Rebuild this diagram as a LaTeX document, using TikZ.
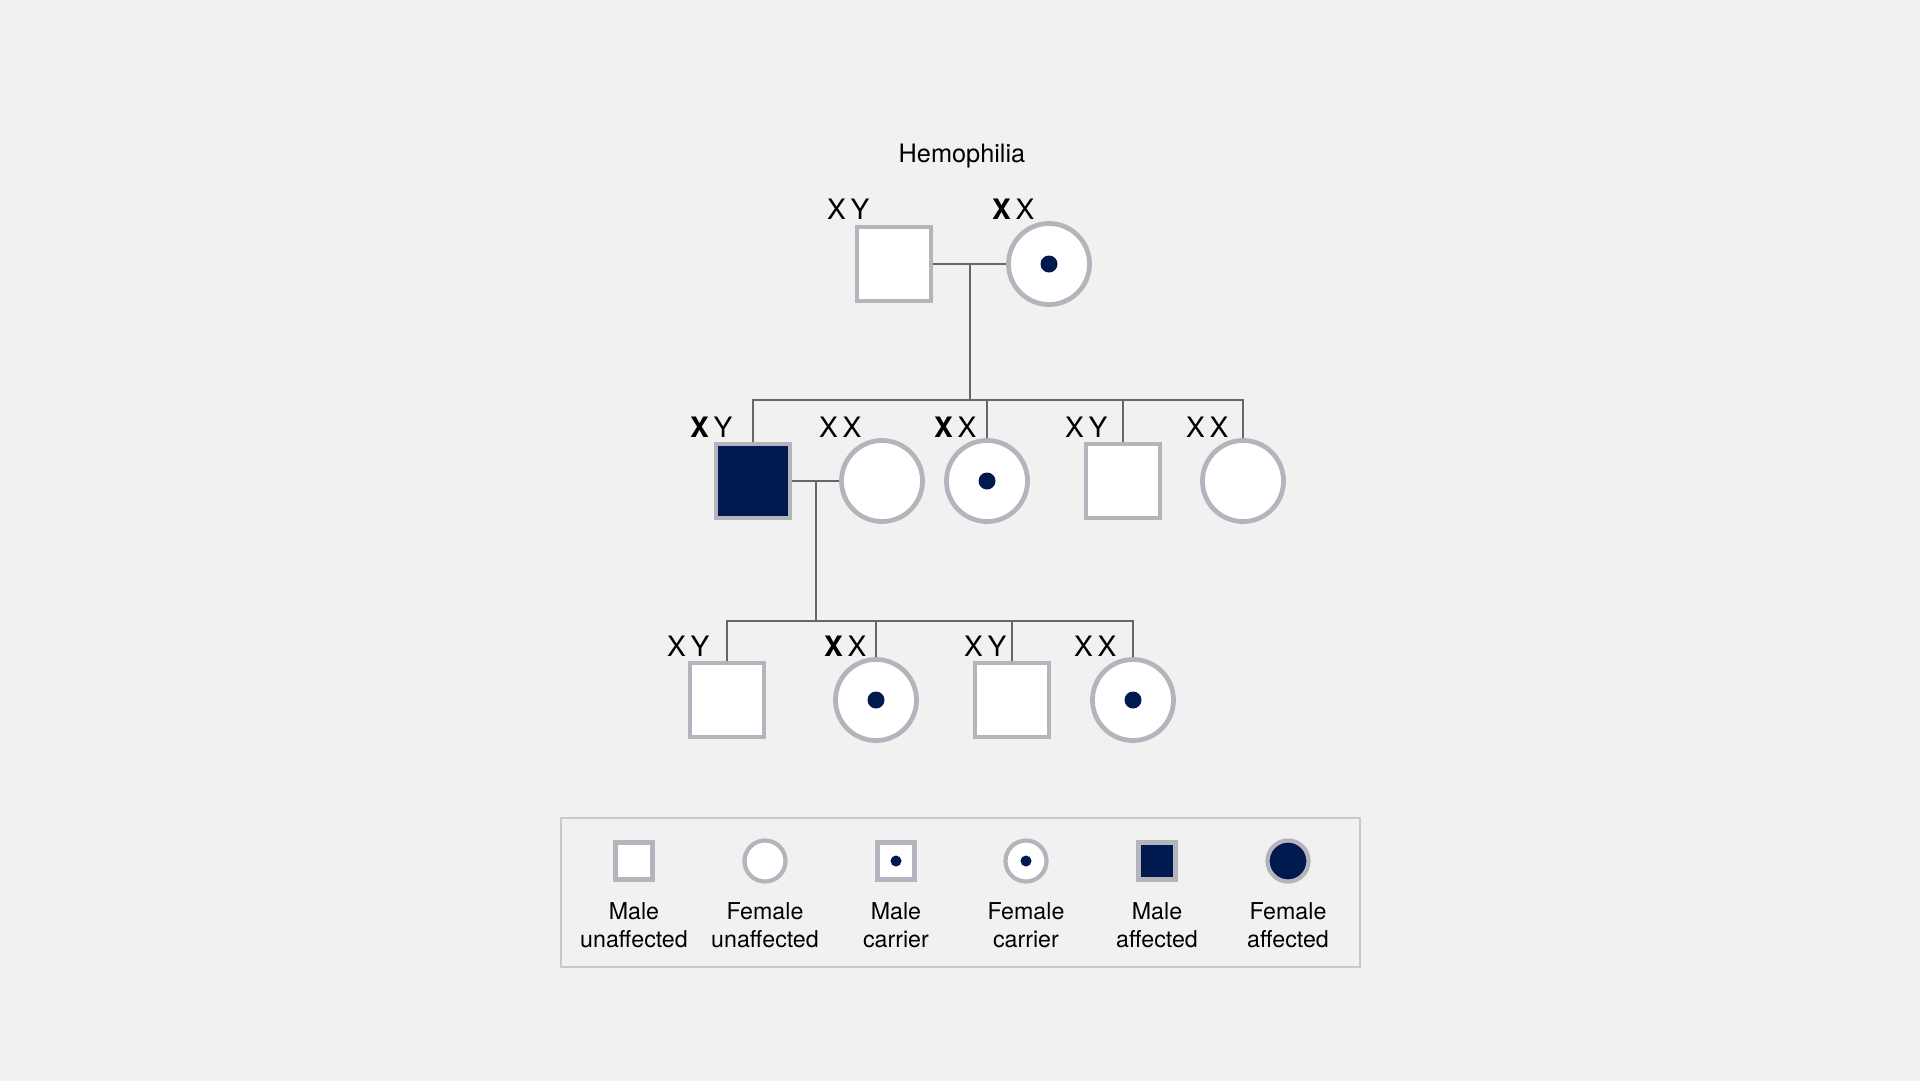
\documentclass[tikz,border=0pt]{standalone}
\usepackage{fontspec}
\setmainfont{TeX Gyre Heros}
\usetikzlibrary{positioning,calc}
\definecolor{bggray}{HTML}{F1F1F1}
\definecolor{edgegray}{HTML}{B4B4BC}
\definecolor{navy}{HTML}{001A50}
\definecolor{linegray}{HTML}{666666}
\definecolor{boxgray}{HTML}{C9C9CD}

\begin{document}
\begin{tikzpicture}[
  x=0.01cm, y=-0.01cm,
  male/.style={rectangle, draw=edgegray, line width=1.35pt, fill=white,
               minimum size=0.74cm, inner sep=0pt},
  female/.style={circle, draw=edgegray, line width=1.35pt, fill=white,
                 minimum size=0.81cm, inner sep=0pt},
  affected/.style={fill=navy},
  dot/.style={circle, fill=navy, minimum size=0.17cm, inner sep=0pt},
  geno/.style={anchor=base east, inner sep=0pt, font=\fontsize{8}{9.6}\selectfont},
  link/.style={draw=linegray, line width=0.65pt},
  keymale/.style={male, minimum size=0.37cm, line width=1.2pt},
  keyfemale/.style={female, minimum size=0.41cm, line width=1.2pt},
  keydot/.style={dot, minimum size=0.11cm},
  keytext/.style={anchor=base, align=center, inner sep=0pt,
                  font=\fontsize{6.6}{7.7}\selectfont}
]
  \useasboundingbox[fill=bggray] (0,0) rectangle (1920,1081);

  \node[anchor=base, inner sep=0pt, font=\fontsize{7.2}{8.6}\selectfont] (title) at (962,162) {Hemophilia};

  % generation I
  \node[male] (m1) at (894,264) {};
  \node[female] (f1) at (1049,264) {};
  \node[dot] (f1d) at (f1) {};
  \node[geno] (g1) at (870,219) {X\,Y};
  \node[geno] (g2) at (1035,219) {\textbf{X}\,X};

  % generation II
  \node[male, affected] (m21) at (753,481) {};
  \node[female] (f22) at (882,481) {};
  \node[female] (f23) at (987,481) {};
  \node[dot] (f23d) at (f23) {};
  \node[male] (m24) at (1123,481) {};
  \node[female] (f25) at (1243,481) {};
  \node[geno] (g21) at (733,437) {\textbf{X}\,Y};
  \node[geno] (g22) at (862,437) {X\,X};
  \node[geno] (g23) at (977,437) {\textbf{X}\,X};
  \node[geno] (g24) at (1108,437) {X\,Y};
  \node[geno] (g25) at (1229,437) {X\,X};

  % generation III
  \node[male] (m31) at (727,700) {};
  \node[female] (f32) at (876,700) {};
  \node[dot] (f32d) at (f32) {};
  \node[male] (m33) at (1012,700) {};
  \node[female] (f34) at (1133,700) {};
  \node[dot] (f34d) at (f34) {};
  \node[geno] (g31) at (710,656) {X\,Y};
  \node[geno] (g32) at (867,656) {\textbf{X}\,X};
  \node[geno] (g33) at (1007,656) {X\,Y};
  \node[geno] (g34) at (1117,656) {X\,X};

  % lines of descent
  \draw[link] (m1) -- (f1);
  \coordinate (u1) at ($(m1.east)!0.5!(f1.west)$);
  \coordinate (s1) at (u1 |- 0,400);
  \draw[link] (u1) -- (s1);
  \draw[link] (m21.north) -- (m21.north |- s1) -- (f25.north |- s1) -- (f25.north);
  \draw[link] (f23.north) -- (f23.north |- s1);
  \draw[link] (m24.north) -- (m24.north |- s1);

  \draw[link] (m21) -- (f22);
  \coordinate (u2) at ($(m21.east)!0.5!(f22.west)$);
  \coordinate (s2) at (u2 |- 0,621);
  \draw[link] (u2) -- (s2);
  \draw[link] (m31.north) -- (m31.north |- s2) -- (f34.north |- s2) -- (f34.north);
  \draw[link] (f32.north) -- (f32.north |- s2);
  \draw[link] (m33.north) -- (m33.north |- s2);

  % key
  \node[draw=boxgray, line width=0.5pt, rectangle, minimum width=7.99cm,
        minimum height=1.49cm, inner sep=0pt] (key) at (960.5,892.5) {};
  \node[keymale] (k1) at (634,861) {};
  \node[keyfemale] (k2) at (765,861) {};
  \node[keymale] (k3) at (896,861) {};
  \node[keydot] (k3d) at (k3) {};
  \node[keyfemale] (k4) at (1026,861) {};
  \node[keydot] (k4d) at (k4) {};
  \node[keymale, affected] (k5) at (1157,861) {};
  \node[keyfemale, affected] (k6) at (1288,861) {};
  \node[keytext] (t1) at (634,947) {Male\\unaffected};
  \node[keytext] (t2) at (765,947) {Female\\unaffected};
  \node[keytext] (t3) at (896,947) {Male\\carrier};
  \node[keytext] (t4) at (1026,947) {Female\\carrier};
  \node[keytext] (t5) at (1157,947) {Male\\affected};
  \node[keytext] (t6) at (1288,947) {Female\\affected};
\end{tikzpicture}
\end{document}
